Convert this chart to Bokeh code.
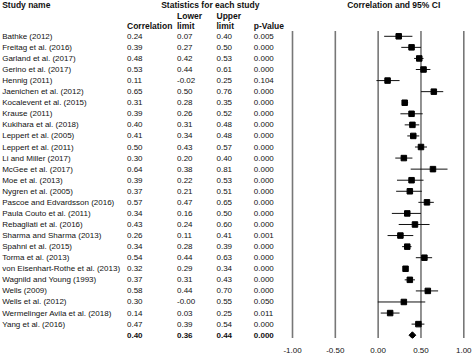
from bokeh.plotting import figure
from bokeh.models import Range1d, LinearAxis, FixedTicker, NumeralTickFormatter
from bokeh.core.properties import value
from bokeh.embed import file_html
from bokeh.resources import INLINE
import math

# ---------------- data ----------------
studies = [
    "Bathke (2012)", "Freitag et al. (2016)", "Garland et al. (2017)", "Gerino et al. (2017)",
    "Hennig (2011)", "Jaenichen et al. (2012)", "Kocalevent et al. (2015)", "Krause (2011)",
    "Kukihara et al. (2018)", "Leppert et al. (2005)", "Leppert et al. (2011)", "Li and Miller (2017)",
    "McGee et al. (2017)", "Moe et al. (2013)", "Nygren et al. (2005)", "Pascoe and Edvardsson (2016)",
    "Paula Couto et al. (2011)", "Rebagliati et al. (2016)", "Sharma and Sharma (2013)",
    "Spahni et al. (2015)", "Torma et al. (2013)", "von Eisenhart-Rothe et al. (2013)",
    "Wagnild and Young (1993)", "Wells (2009)", "Wells et al. (2012)",
    "Wermelinger Avila et al. (2018)", "Yang et al. (2016)",
]
correlation = [0.24, 0.39, 0.48, 0.53, 0.11, 0.65, 0.31, 0.39, 0.40, 0.41, 0.50, 0.30, 0.64, 0.39,
               0.37, 0.57, 0.34, 0.43, 0.26, 0.34, 0.54, 0.32, 0.37, 0.58, 0.30, 0.14, 0.47]
lower_limit = [0.07, 0.27, 0.42, 0.44, -0.02, 0.50, 0.28, 0.26, 0.31, 0.34, 0.43, 0.20, 0.38, 0.22,
               0.21, 0.47, 0.16, 0.24, 0.11, 0.28, 0.44, 0.29, 0.31, 0.44, -0.004, 0.03, 0.39]
upper_limit = [0.40, 0.50, 0.53, 0.61, 0.25, 0.76, 0.35, 0.52, 0.48, 0.48, 0.57, 0.40, 0.81, 0.53,
               0.51, 0.65, 0.50, 0.60, 0.41, 0.39, 0.63, 0.34, 0.43, 0.70, 0.55, 0.25, 0.54]
p_value = [0.005, 0.000, 0.000, 0.000, 0.104, 0.000, 0.000, 0.000, 0.000, 0.000, 0.000, 0.000,
           0.000, 0.000, 0.000, 0.000, 0.000, 0.000, 0.001, 0.000, 0.000, 0.000, 0.000, 0.000,
           0.050, 0.011, 0.000]
summary_corr = 0.40
summary_lower = 0.36
summary_upper = 0.44
summary_p = 0.000
axis_ticks = [-1.0, -0.5, 0.0, 0.5, 1.0]

# ---------------- layout ----------------
W, H = 474, 357
PX0, PXU = 377.65, 85.65     # pixel of correlation 0, pixels per unit
ROW0, ROWH = 35.8, 11.07     # pixel of first row, row height
BOTTOM = 338                 # frame bottom in pixels

def xd(px):
    return (px - PX0) / PXU

def yd(px):
    # rows run downwards: row i sits at y = -i
    return -(px - ROW0) / ROWH

FONT = value("Liberation Sans")
FS = "8px"
HFS = "8.5px"
TC = "#111111"

p = figure(width=W, height=H, output_backend="svg", toolbar_location=None,
           x_range=Range1d(xd(0), xd(W)), y_range=Range1d(yd(BOTTOM), yd(0)),
           min_border_left=0, min_border_right=0, min_border_top=0,
           min_border_bottom=H - BOTTOM, x_axis_type=None, y_axis_type=None)
p.outline_line_color = None

n = len(studies)
rows = [-i for i in range(n)]
srow = -n

# grid lines of the forest plot, one per axis tick
grid_top = [yd(30.5)] * len(axis_ticks)
grid_bottom = [yd(BOTTOM - 0.5)] * len(axis_ticks)
p.segment(x0=axis_ticks, y0=grid_top, x1=axis_ticks, y1=grid_bottom,
          line_color="#777777", line_width=1.6)

# confidence intervals
p.segment(x0=lower_limit, y0=rows, x1=upper_limit, y1=rows, line_color="#111111", line_width=1)

# point estimates
p.scatter(x=correlation, y=rows, marker="square", size=5.5, fill_color="black", line_color="black")
p.scatter(x=[summary_corr], y=[srow], marker="square", angle=math.pi / 4, size=4.8,
          fill_color="black", line_color="black")


def col(texts, px, ys, bold=False, size=FS):
    p.text(x=[xd(px)] * len(texts), y=ys, text=texts, text_font=FONT, text_font_size=size,
           text_font_style="bold" if bold else "normal", text_color=TC,
           text_align="left", text_baseline="middle")


# table body
col(studies, 1.7, rows)
col([f"{v:.2f}" for v in correlation], 126.5, rows)
col([f"{v:.2f}" for v in lower_limit], 176.5, rows)
col([f"{v:.2f}" for v in upper_limit], 216.0, rows)
col([f"{v:.3f}" for v in p_value], 253.3, rows)
col([f"{summary_corr:.2f}"], 126.5, [srow], bold=True)
col([f"{summary_lower:.2f}"], 176.5, [srow], bold=True)
col([f"{summary_upper:.2f}"], 216.0, [srow], bold=True)
col([f"{summary_p:.3f}"], 253.3, [srow], bold=True)

# headers
col(["Study name"], 1.7, [yd(4.8)], bold=True, size=HFS)
col(["Statistics for each study"], 160.7, [yd(4.8)], bold=True, size=HFS)
col(["Correlation and 95% CI"], 346.7, [yd(4.8)], bold=True, size=HFS)
col(["Lower"], 176.5, [yd(15.6)], bold=True, size=HFS)
col(["Upper"], 216.0, [yd(15.6)], bold=True, size=HFS)
col(["Correlation"], 126.5, [yd(25.6)], bold=True, size=HFS)
col(["limit"], 176.5, [yd(25.6)], bold=True, size=HFS)
col(["limit"], 216.0, [yd(25.6)], bold=True, size=HFS)
col(["p-Value"], 253.3, [yd(25.6)], bold=True, size=HFS)

# x axis
ax = LinearAxis(ticker=FixedTicker(ticks=list(axis_ticks)),
                formatter=NumeralTickFormatter(format="0.00"))
ax.axis_line_color = None
ax.major_tick_line_color = None
ax.minor_tick_line_color = None
ax.major_tick_out = 0
ax.major_tick_in = 0
ax.major_label_standoff = 9
ax.major_label_text_font = "Liberation Sans"
ax.major_label_text_font_size = FS
ax.major_label_text_color = TC
p.add_layout(ax, "below")

open("out.html", "w").write(file_html(p, INLINE))
